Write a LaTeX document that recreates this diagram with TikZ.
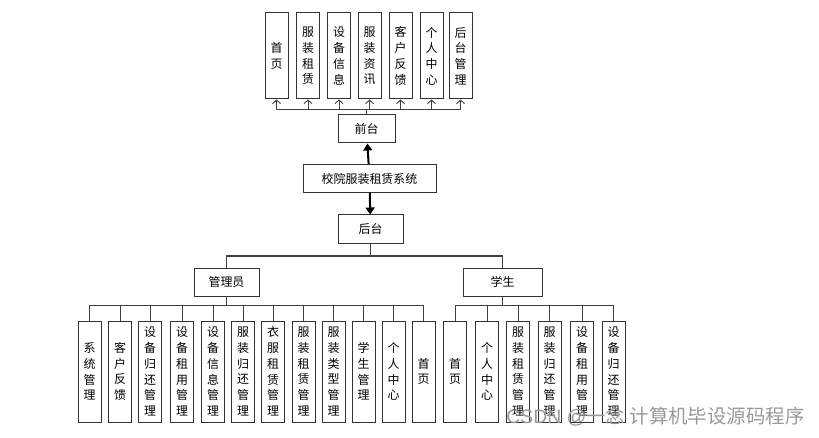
\documentclass[tikz,border=0pt]{standalone}
\usepackage{fontspec}
\newfontfamily\cjk{Noto Sans CJK SC}
\usetikzlibrary{arrows.meta}
\begin{document}
\begin{tikzpicture}[x=1bp,y=-1bp,
  box/.style={draw=black!80,line width=1pt,fill=white,inner sep=0pt,font=\cjk\fontsize{12}{15.8}\selectfont,align=center},
  hbox/.style={box,minimum height=28bp},
  vbox/.style={box,minimum width=23bp},
  line/.style={draw=black!75,line width=0.9pt},
  open/.style={line,-{Straight Barb[length=3.5bp,width=8bp]}},
  thick arrow/.style={draw=black,line width=2pt,-{Triangle[length=7bp,width=9bp]}}]
\useasboundingbox (0,0) rectangle (819,438);
% top
\node[hbox,minimum width=57bp] (front) at (366.5,129) {前台};
\node[hbox,minimum width=133bp] (sys) at (369.5,178.5) {校院服装租赁系统};
\node[hbox,minimum width=65bp] (back) at (370.5,229) {后台};
\node[hbox,minimum width=65bp] (adm) at (226.5,282) {管理员};
\node[hbox,minimum width=79bp] (stu) at (502.5,282) {学生};
\draw[thick arrow] (sys) -- (front);
\draw[thick arrow] (sys) -- (back);
\coordinate (tbus) at (0,109);
\coordinate (mbus) at (0,256);
\coordinate (abus) at (0,305);
\foreach \n/\x/\t in {t1/276.5/首\\页, t2/308/服\\装\\租\\赁, t3/339/设\\备\\信\\息, t4/369.5/服\\装\\资\\讯, t5/400.5/客\\户\\反\\馈, t6/431.5/个\\人\\中\\心, t7/460.5/后\\台\\管\\理}{
  \node[vbox,minimum height=86bp] (\n) at (\x,56) {\t};
  \draw[line] (front.north) -- (front.north |- tbus) -| ([yshift=-4bp]\n.south);
  \draw[open] (\n.south |- tbus) -- (\n.south);
}
\draw[line,line width=1.4pt] (front.north) -- (front.north |- tbus);
\draw[line,line width=1.2pt] (back.south) -- (back.south |- mbus) -| (adm.north);
\draw[line,line width=1.2pt] (back.south |- mbus) -| (stu.north);
\foreach \n/\x/\t in {a1/89.5/系\\统\\管\\理, a2/120/客\\户\\反\\馈, a3/150/设\\备\\归\\还\\管\\理, a4/182/设\\备\\租\\用\\管\\理, a5/213/设\\备\\信\\息\\管\\理, a6/243/服\\装\\归\\还\\管\\理, a7/273/衣\\服\\租\\赁\\管\\理, a8/303.5/服\\装\\租\\赁\\管\\理, a9/333.5/服\\装\\类\\型\\管\\理, a10/363.5/学\\生\\管\\理, a11/393.5/个\\人\\中\\心, a12/423.5/首\\页}{
  \node[vbox,minimum height=101bp] (\n) at (\x,371.5) {\t};
  \draw[line] (adm.south) -- (adm.south |- abus) -| (\n.north);
}
\foreach \n/\x/\t in {s1/455/首\\页, s2/487/个\\人\\中\\心, s3/518/服\\装\\租\\赁\\管\\理, s4/549.5/服\\装\\归\\还\\管\\理, s5/582/设\\备\\租\\用\\管\\理, s6/613.5/设\\备\\归\\还\\管\\理}{
  \node[vbox,minimum height=101bp] (\n) at (\x,371.5) {\t};
  \draw[line] (stu.south) -- (stu.south |- abus) -| (\n.north);
}
\draw[line,line width=1.8pt] (adm.south) -- (adm.south |- abus);
\draw[line,line width=1.8pt] (stu.south) -- (stu.south |- abus);
\node[text=black!40,font=\fontspec{Liberation Sans}\fontsize{19.5}{19.5}\selectfont,anchor=east] (wm) at (808,417) {CSDN @\cjk 一念 计算机毕设源码程序};
\end{tikzpicture}
\end{document}
